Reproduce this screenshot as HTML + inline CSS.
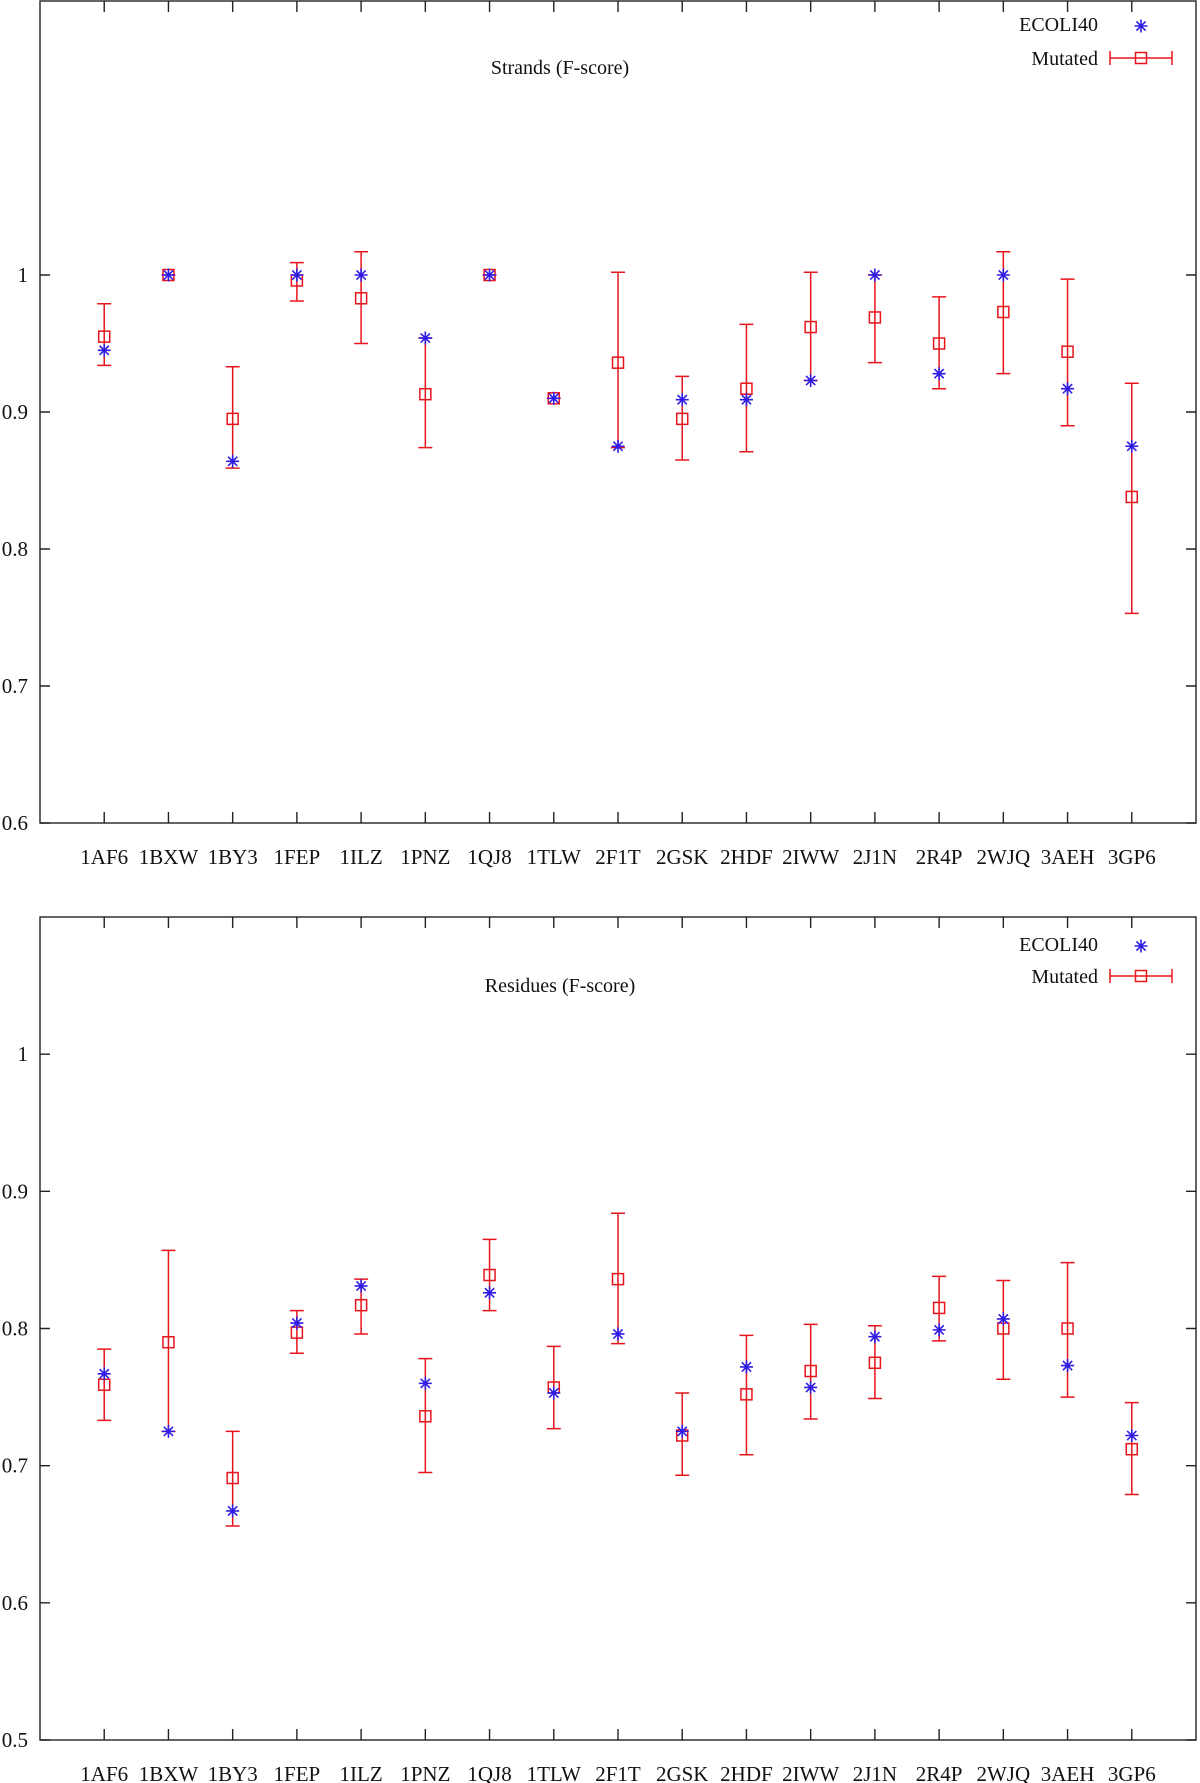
<!DOCTYPE html>
<html><head><meta charset="utf-8"><style>
html,body{margin:0;padding:0;background:#fff;}
svg{display:block;font-family:"Liberation Serif",serif;}
</style></head><body>
<svg id="chart" width="1200" height="1783" viewBox="0 0 1200 1783" xmlns="http://www.w3.org/2000/svg"></svg>
<script>
const categories = ["1AF6","1BXW","1BY3","1FEP","1ILZ","1PNZ","1QJ8","1TLW","2F1T","2GSK","2HDF","2IWW","2J1N","2R4P","2WJQ","3AEH","3GP6"];
// Strands panel
const strandsEcoli = [0.945,1,0.864,1,1,0.954,1,0.910,0.875,0.909,0.909,0.923,1,0.928,1,0.917,0.875];
const strandsMut   = [0.955,1,0.895,0.996,0.983,0.913,1,0.910,0.936,0.895,0.917,0.962,0.969,0.950,0.973,0.944,0.838];
const strandsLow   = [0.934,1,0.859,0.981,0.950,0.874,1,0.910,0.874,0.865,0.871,0.923,0.936,0.917,0.928,0.890,0.753];
const strandsHigh  = [0.979,1,0.933,1.009,1.017,0.954,1,0.910,1.002,0.926,0.964,1.002,1.0,0.984,1.017,0.997,0.921];
const strandsTicks = [0.6,0.7,0.8,0.9,1];
// Residues panel
const resEcoli = [0.767,0.725,0.667,0.804,0.831,0.760,0.826,0.753,0.796,0.725,0.772,0.757,0.794,0.799,0.807,0.773,0.722];
const resMut   = [0.759,0.790,0.691,0.797,0.817,0.736,0.839,0.757,0.836,0.722,0.752,0.769,0.775,0.815,0.800,0.800,0.712];
const resLow   = [0.733,0.725,0.656,0.782,0.796,0.695,0.813,0.727,0.789,0.693,0.708,0.734,0.749,0.791,0.763,0.750,0.679];
const resHigh  = [0.785,0.857,0.725,0.813,0.836,0.778,0.865,0.787,0.884,0.753,0.795,0.803,0.802,0.838,0.835,0.848,0.746];
const resTicks = [0.5,0.6,0.7,0.8,0.9,1];

const svg = document.getElementById('chart');
const NS = 'http://www.w3.org/2000/svg';
function mk(tag, attrs, parent){
  const e = document.createElementNS(NS, tag);
  for (const k in attrs) e.setAttribute(k, attrs[k]);
  (parent||svg).appendChild(e);
  return e;
}
const BLUE = '#2f1de6', RED = '#e8141c', AX = '#222';

function star(g, x, y){
  const r = 6.5, d = 4.6;
  return mk('path', {d:`M${x} ${y-r}V${y+r}M${x-r} ${y}H${x+r}M${x-d} ${y-d}L${x+d} ${y+d}M${x-d} ${y+d}L${x+d} ${y-d}`, stroke:BLUE, 'stroke-width':1.6, fill:'none'}, g);
}
function square(g, x, y){
  return mk('rect', {x:x-5.5, y:y-5.5, width:11, height:11, fill:'none', stroke:RED, 'stroke-width':1.5}, g);
}

function panel(name, top, bottom, vmin, vmax, ticks, title, titleY, legY1, legY2, ecoli, mut, low, high){
  const L = 40, R = 1196;
  const g = mk('g', {});
  
  
  const xs = i => L + (R - L) * (i + 1) / (categories.length + 1);
  const ys = v => bottom - (v - vmin) / (vmax - vmin) * (bottom - top);
  const frame = mk('rect', {x:L, y:top, width:R-L, height:bottom-top, fill:'none', stroke:AX, 'stroke-width':1.4}, g);
  
  
  ticks.forEach(t => {
    const y = ys(t);
    const tk = mk('path', {d:`M${L} ${y}H${L+10}M${R} ${y}H${R-10}`, stroke:AX, 'stroke-width':1.4}, g);
    
    
    const tx = mk('text', {x:28, y:y+7, 'text-anchor':'end', 'font-size':21, fill:'#111'}, g);
    tx.textContent = String(t);
    
    
  });
  categories.forEach((c, i) => {
    const x = xs(i);
    const tk = mk('path', {d:`M${x} ${bottom}V${bottom-11}M${x} ${top}V${top+11}`, stroke:AX, 'stroke-width':1.4}, g);
    
    
    const tx = mk('text', {x:x, y:bottom+41, 'text-anchor':'middle', 'font-size':21, fill:'#111'}, g);
    tx.textContent = c;
    
    
  });
  const tt = mk('text', {x:560, y:titleY, 'text-anchor':'middle', 'font-size':20, fill:'#111'}, g);
  tt.textContent = title;
  
  
  categories.forEach((c, i) => {
    const x = xs(i);
    const eb = mk('path', {d:`M${x} ${ys(low[i])}V${ys(high[i])}M${x-7} ${ys(low[i])}H${x+7}M${x-7} ${ys(high[i])}H${x+7}`, stroke:RED, 'stroke-width':1.5, fill:'none'}, g);
    
    
    const sq = square(g, x, ys(mut[i]));
    
    
    const st = star(g, x, ys(ecoli[i]));
    
    
  });
  const l1 = mk('text', {x:1098, y:legY1+7, 'text-anchor':'end', 'font-size':20, fill:'#111'}, g);
  l1.textContent = 'ECOLI40';
  
  
  const ls = star(g, 1141, legY1 + 2);
  
  
  const l2 = mk('text', {x:1098, y:legY2+7, 'text-anchor':'end', 'font-size':20, fill:'#111'}, g);
  l2.textContent = 'Mutated';
  
  
  const lb = mk('path', {d:`M1110 ${legY2}H1172M1110 ${legY2-7}V${legY2+7}M1172 ${legY2-7}V${legY2+7}`, stroke:RED, 'stroke-width':1.5, fill:'none'}, g);
  
  
  const lq = square(g, 1141, legY2);
  
  
}

panel('strands', 1, 823, 0.6, 1.2, strandsTicks, 'Strands (F-score)', 74, 24, 58, strandsEcoli, strandsMut, strandsLow, strandsHigh);
panel('residues', 917, 1740, 0.5, 1.1, resTicks, 'Residues (F-score)', 992, 944, 976, resEcoli, resMut, resLow, resHigh);
</script>
</body></html>
